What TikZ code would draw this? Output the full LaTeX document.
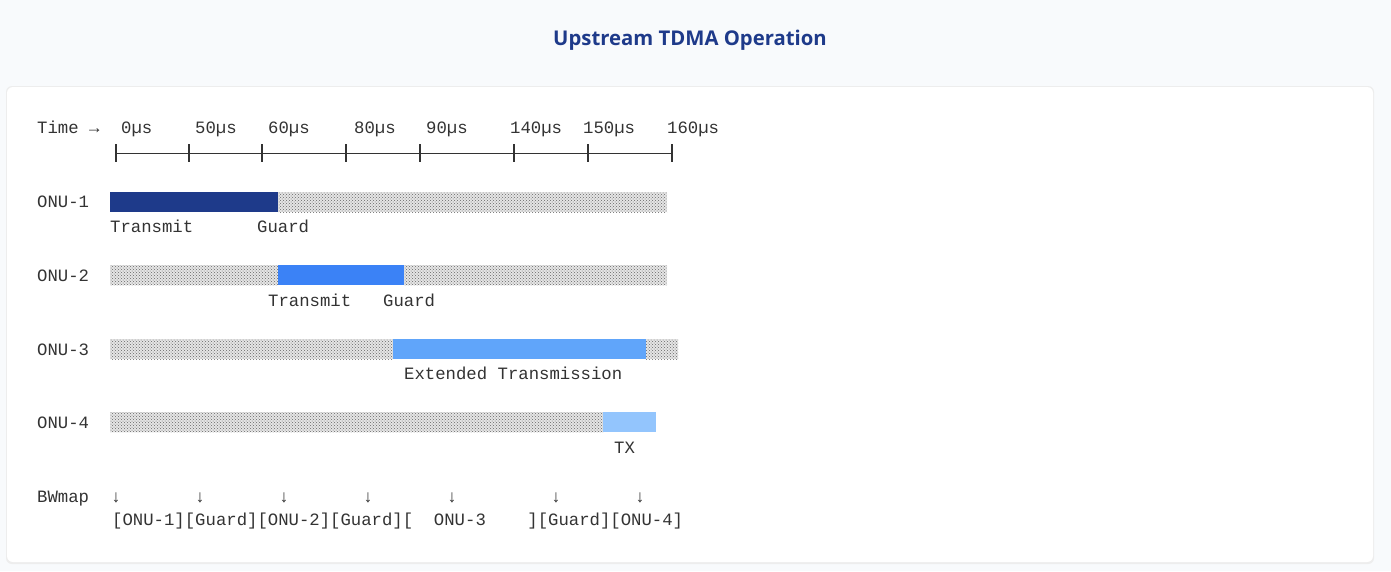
\documentclass[tikz,border=0pt]{standalone}
\usepackage{fontspec}
\setmonofont{Liberation Mono}
\setsansfont{Open Sans}
\usetikzlibrary{patterns}
\definecolor{pagebg}{HTML}{F8FAFC}
\definecolor{titleblue}{HTML}{1E3A8A}
\definecolor{txone}{HTML}{1E3A8A}
\definecolor{txtwo}{HTML}{3B82F6}
\definecolor{txthree}{HTML}{60A5FA}
\definecolor{txfour}{HTML}{93C5FD}
\definecolor{inkgray}{HTML}{333333}
\tikzset{mono/.style = {font=\ttfamily\fontsize{17.3}{20}\selectfont, text=inkgray,
                        inner sep=0pt, anchor=base west},
         idle/.style = {fill=black!10, postaction={pattern=crosshatch dots, pattern color=black!60}},
         tickmark/.style = {inkgray, line width=1.2pt}}

\begin{document}
\begin{tikzpicture}[x=1pt, y=-1pt]
    \fill[pagebg] (0,0) rectangle (1391,571);
    \useasboundingbox (0,0) rectangle (1391,571);
    \fill[black!7, rounded corners=6pt] (6,86) rectangle (1374,564);
    \fill[white, rounded corners=6pt] (7,87) rectangle (1373,562);
    \node[font=\sffamily\bfseries\fontsize{20.3}{24}\selectfont, text=titleblue] (title) at (690,40) {Upstream TDMA Operation};

    % time axis
    \node[mono] (time) at (37,133) {Time →};
    \draw[inkgray, line width=1pt] (116,153) -- (672,153);
    \foreach \x/\lx/\lab [count=\i] in {116/121/0, 189/195/50, 262/268/60, 346/354/80,
                                       420/426/90, 514/510/140, 588/583/150, 672/667/160} {
        \draw[tickmark] (\x,144) -- (\x,162);
        \node[mono] (t\i) at (\lx,133) {\lab{}µs};
    }

    % rows
    \foreach \y/\n in {207/1, 281/2, 355/3, 428/4}
        \node[mono] (onu\n) at (37,\y) {ONU-\n};

    \fill[txone] (110,192) rectangle (278,212);
    \fill[idle] (278,192) rectangle (667,212);
    \node[mono] (tx1) at (110,232) {Transmit};
    \node[mono] (g1) at (257,232) {Guard};

    \fill[idle] (110,265) rectangle (278,285);
    \fill[txtwo] (278,265) rectangle (404,285);
    \fill[idle] (404,265) rectangle (667,285);
    \node[mono] (tx2) at (268,306) {Transmit};
    \node[mono] (g2) at (383,306) {Guard};

    \fill[idle] (110,339) rectangle (393,359);
    \fill[txthree] (393,339) rectangle (646,359);
    \fill[idle] (646,339) rectangle (678,359);
    \node[mono] (ext3) at (404,379) {Extended Transmission};

    \fill[idle] (110,412) rectangle (603,432);
    \fill[txfour] (603,412) rectangle (656,432);
    \node[mono] (tx4) at (614,453) {TX};

    % bandwidth map
    \node[mono] (bwmap) at (37,502) {BWmap};
    \foreach \x [count=\i] in {116, 200, 284, 368, 452, 556, 640}
        \node[mono, anchor=base] (arr\i) at (\x,502) {↓};
    \node[mono] (slots) at (112,525) {[ONU-1][Guard][ONU-2][Guard][\ \ ONU-3\ \ \ \ ][Guard][ONU-4]};
\end{tikzpicture}
\end{document}
